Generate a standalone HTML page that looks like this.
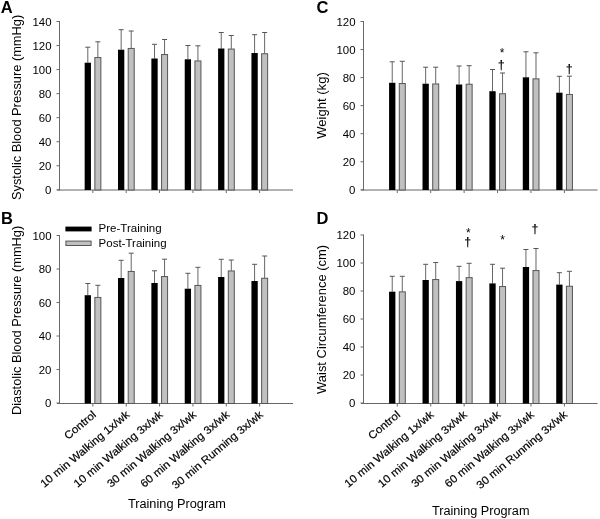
<!DOCTYPE html>
<html><head><meta charset="utf-8"><style>
html,body{margin:0;padding:0;background:#fff;}
svg{display:block;font-family:"Liberation Sans", Arial, sans-serif;}
</style></head><body>
<svg width="600" height="519" viewBox="0 0 600 519">
<rect width="600" height="519" fill="#fff"/>
<line x1="59.5" y1="21.0" x2="59.5" y2="190.5" stroke="#6a6a6a" stroke-width="1"/>
<line x1="57.0" y1="190" x2="293" y2="190" stroke="#666" stroke-width="1"/>
<line x1="56.5" y1="189.8" x2="59.5" y2="189.8" stroke="#6a6a6a" stroke-width="1"/>
<text x="51.5" y="194.1" font-size="11" text-anchor="end" textLength="6.36" lengthAdjust="spacingAndGlyphs" fill="#000">0</text>
<line x1="56.5" y1="165.76" x2="59.5" y2="165.76" stroke="#6a6a6a" stroke-width="1"/>
<text x="51.5" y="170.06" font-size="11" text-anchor="end" textLength="12.72" lengthAdjust="spacingAndGlyphs" fill="#000">20</text>
<line x1="56.5" y1="141.71" x2="59.5" y2="141.71" stroke="#6a6a6a" stroke-width="1"/>
<text x="51.5" y="146.01" font-size="11" text-anchor="end" textLength="12.72" lengthAdjust="spacingAndGlyphs" fill="#000">40</text>
<line x1="56.5" y1="117.67" x2="59.5" y2="117.67" stroke="#6a6a6a" stroke-width="1"/>
<text x="51.5" y="121.97" font-size="11" text-anchor="end" textLength="12.72" lengthAdjust="spacingAndGlyphs" fill="#000">60</text>
<line x1="56.5" y1="93.63" x2="59.5" y2="93.63" stroke="#6a6a6a" stroke-width="1"/>
<text x="51.5" y="97.93" font-size="11" text-anchor="end" textLength="12.72" lengthAdjust="spacingAndGlyphs" fill="#000">80</text>
<line x1="56.5" y1="69.59" x2="59.5" y2="69.59" stroke="#6a6a6a" stroke-width="1"/>
<text x="51.5" y="73.89" font-size="11" text-anchor="end" textLength="19.09" lengthAdjust="spacingAndGlyphs" fill="#000">100</text>
<line x1="56.5" y1="45.54" x2="59.5" y2="45.54" stroke="#6a6a6a" stroke-width="1"/>
<text x="51.5" y="49.84" font-size="11" text-anchor="end" textLength="19.09" lengthAdjust="spacingAndGlyphs" fill="#000">120</text>
<line x1="56.5" y1="21.5" x2="59.5" y2="21.5" stroke="#6a6a6a" stroke-width="1"/>
<text x="51.5" y="25.8" font-size="11" text-anchor="end" textLength="19.09" lengthAdjust="spacingAndGlyphs" fill="#000">140</text>
<line x1="92.86" y1="190" x2="92.86" y2="193" stroke="#6a6a6a" stroke-width="1"/>
<line x1="87.81" y1="47.2" x2="87.81" y2="62.7" stroke="#666" stroke-width="1"/>
<line x1="85.31" y1="47.2" x2="90.31" y2="47.2" stroke="#555" stroke-width="1"/>
<rect x="84.66" y="62.70" width="6.30" height="127.30" fill="#000"/>
<line x1="97.86" y1="41.8" x2="97.86" y2="57.3" stroke="#666" stroke-width="1"/>
<line x1="95.36" y1="41.8" x2="100.36" y2="41.8" stroke="#555" stroke-width="1"/>
<rect x="94.86" y="57.55" width="6.00" height="132.45" fill="#c0c0c0" stroke="#555" stroke-width="1"/>
<line x1="126.21" y1="190" x2="126.21" y2="193" stroke="#6a6a6a" stroke-width="1"/>
<line x1="121.16" y1="29.7" x2="121.16" y2="49.7" stroke="#666" stroke-width="1"/>
<line x1="118.66" y1="29.7" x2="123.66" y2="29.7" stroke="#555" stroke-width="1"/>
<rect x="118.01" y="49.70" width="6.30" height="140.30" fill="#000"/>
<line x1="131.21" y1="31.0" x2="131.21" y2="48.2" stroke="#666" stroke-width="1"/>
<line x1="128.71" y1="31.0" x2="133.71" y2="31.0" stroke="#555" stroke-width="1"/>
<rect x="128.21" y="48.45" width="6.00" height="141.55" fill="#c0c0c0" stroke="#555" stroke-width="1"/>
<line x1="159.57" y1="190" x2="159.57" y2="193" stroke="#6a6a6a" stroke-width="1"/>
<line x1="154.52" y1="44.3" x2="154.52" y2="58.5" stroke="#666" stroke-width="1"/>
<line x1="152.02" y1="44.3" x2="157.02" y2="44.3" stroke="#555" stroke-width="1"/>
<rect x="151.37" y="58.50" width="6.30" height="131.50" fill="#000"/>
<line x1="164.57" y1="39.5" x2="164.57" y2="54.3" stroke="#666" stroke-width="1"/>
<line x1="162.07" y1="39.5" x2="167.07" y2="39.5" stroke="#555" stroke-width="1"/>
<rect x="161.57" y="54.55" width="6.00" height="135.45" fill="#c0c0c0" stroke="#555" stroke-width="1"/>
<line x1="192.93" y1="190" x2="192.93" y2="193" stroke="#6a6a6a" stroke-width="1"/>
<line x1="187.88" y1="45.5" x2="187.88" y2="59.3" stroke="#666" stroke-width="1"/>
<line x1="185.38" y1="45.5" x2="190.38" y2="45.5" stroke="#555" stroke-width="1"/>
<rect x="184.73" y="59.30" width="6.30" height="130.70" fill="#000"/>
<line x1="197.93" y1="45.8" x2="197.93" y2="60.7" stroke="#666" stroke-width="1"/>
<line x1="195.43" y1="45.8" x2="200.43" y2="45.8" stroke="#555" stroke-width="1"/>
<rect x="194.93" y="60.95" width="6.00" height="129.05" fill="#c0c0c0" stroke="#555" stroke-width="1"/>
<line x1="226.29" y1="190" x2="226.29" y2="193" stroke="#6a6a6a" stroke-width="1"/>
<line x1="221.24" y1="32.5" x2="221.24" y2="48.5" stroke="#666" stroke-width="1"/>
<line x1="218.74" y1="32.5" x2="223.74" y2="32.5" stroke="#555" stroke-width="1"/>
<rect x="218.09" y="48.50" width="6.30" height="141.50" fill="#000"/>
<line x1="231.29" y1="35.5" x2="231.29" y2="48.8" stroke="#666" stroke-width="1"/>
<line x1="228.79" y1="35.5" x2="233.79" y2="35.5" stroke="#555" stroke-width="1"/>
<rect x="228.29" y="49.05" width="6.00" height="140.95" fill="#c0c0c0" stroke="#555" stroke-width="1"/>
<line x1="259.64" y1="190" x2="259.64" y2="193" stroke="#6a6a6a" stroke-width="1"/>
<line x1="254.59" y1="34.7" x2="254.59" y2="53.0" stroke="#666" stroke-width="1"/>
<line x1="252.09" y1="34.7" x2="257.09" y2="34.7" stroke="#555" stroke-width="1"/>
<rect x="251.44" y="53.00" width="6.30" height="137.00" fill="#000"/>
<line x1="264.64" y1="32.5" x2="264.64" y2="53.5" stroke="#666" stroke-width="1"/>
<line x1="262.14" y1="32.5" x2="267.14" y2="32.5" stroke="#555" stroke-width="1"/>
<rect x="261.64" y="53.75" width="6.00" height="136.25" fill="#c0c0c0" stroke="#555" stroke-width="1"/>
<line x1="59.5" y1="235.0" x2="59.5" y2="404.0" stroke="#6a6a6a" stroke-width="1"/>
<line x1="57.0" y1="403.5" x2="293" y2="403.5" stroke="#666" stroke-width="1"/>
<line x1="56.5" y1="403.0" x2="59.5" y2="403.0" stroke="#6a6a6a" stroke-width="1"/>
<text x="51.5" y="407.3" font-size="11" text-anchor="end" textLength="6.36" lengthAdjust="spacingAndGlyphs" fill="#000">0</text>
<line x1="56.5" y1="369.5" x2="59.5" y2="369.5" stroke="#6a6a6a" stroke-width="1"/>
<text x="51.5" y="373.8" font-size="11" text-anchor="end" textLength="12.72" lengthAdjust="spacingAndGlyphs" fill="#000">20</text>
<line x1="56.5" y1="336.0" x2="59.5" y2="336.0" stroke="#6a6a6a" stroke-width="1"/>
<text x="51.5" y="340.3" font-size="11" text-anchor="end" textLength="12.72" lengthAdjust="spacingAndGlyphs" fill="#000">40</text>
<line x1="56.5" y1="302.5" x2="59.5" y2="302.5" stroke="#6a6a6a" stroke-width="1"/>
<text x="51.5" y="306.8" font-size="11" text-anchor="end" textLength="12.72" lengthAdjust="spacingAndGlyphs" fill="#000">60</text>
<line x1="56.5" y1="269.0" x2="59.5" y2="269.0" stroke="#6a6a6a" stroke-width="1"/>
<text x="51.5" y="273.3" font-size="11" text-anchor="end" textLength="12.72" lengthAdjust="spacingAndGlyphs" fill="#000">80</text>
<line x1="56.5" y1="235.5" x2="59.5" y2="235.5" stroke="#6a6a6a" stroke-width="1"/>
<text x="51.5" y="239.8" font-size="11" text-anchor="end" textLength="19.09" lengthAdjust="spacingAndGlyphs" fill="#000">100</text>
<line x1="92.86" y1="403.5" x2="92.86" y2="406.5" stroke="#6a6a6a" stroke-width="1"/>
<line x1="87.81" y1="283.5" x2="87.81" y2="295.2" stroke="#666" stroke-width="1"/>
<line x1="85.31" y1="283.5" x2="90.31" y2="283.5" stroke="#555" stroke-width="1"/>
<rect x="84.66" y="295.20" width="6.30" height="108.30" fill="#000"/>
<line x1="97.86" y1="285.3" x2="97.86" y2="297.2" stroke="#666" stroke-width="1"/>
<line x1="95.36" y1="285.3" x2="100.36" y2="285.3" stroke="#555" stroke-width="1"/>
<rect x="94.86" y="297.45" width="6.00" height="106.05" fill="#c0c0c0" stroke="#555" stroke-width="1"/>
<line x1="126.21" y1="403.5" x2="126.21" y2="406.5" stroke="#6a6a6a" stroke-width="1"/>
<line x1="121.16" y1="260.3" x2="121.16" y2="278.0" stroke="#666" stroke-width="1"/>
<line x1="118.66" y1="260.3" x2="123.66" y2="260.3" stroke="#555" stroke-width="1"/>
<rect x="118.01" y="278.00" width="6.30" height="125.50" fill="#000"/>
<line x1="131.21" y1="253.2" x2="131.21" y2="271.2" stroke="#666" stroke-width="1"/>
<line x1="128.71" y1="253.2" x2="133.71" y2="253.2" stroke="#555" stroke-width="1"/>
<rect x="128.21" y="271.45" width="6.00" height="132.05" fill="#c0c0c0" stroke="#555" stroke-width="1"/>
<line x1="159.57" y1="403.5" x2="159.57" y2="406.5" stroke="#6a6a6a" stroke-width="1"/>
<line x1="154.52" y1="270.8" x2="154.52" y2="283.0" stroke="#666" stroke-width="1"/>
<line x1="152.02" y1="270.8" x2="157.02" y2="270.8" stroke="#555" stroke-width="1"/>
<rect x="151.37" y="283.00" width="6.30" height="120.50" fill="#000"/>
<line x1="164.57" y1="259.2" x2="164.57" y2="276.3" stroke="#666" stroke-width="1"/>
<line x1="162.07" y1="259.2" x2="167.07" y2="259.2" stroke="#555" stroke-width="1"/>
<rect x="161.57" y="276.55" width="6.00" height="126.95" fill="#c0c0c0" stroke="#555" stroke-width="1"/>
<line x1="192.93" y1="403.5" x2="192.93" y2="406.5" stroke="#6a6a6a" stroke-width="1"/>
<line x1="187.88" y1="273.3" x2="187.88" y2="288.7" stroke="#666" stroke-width="1"/>
<line x1="185.38" y1="273.3" x2="190.38" y2="273.3" stroke="#555" stroke-width="1"/>
<rect x="184.73" y="288.70" width="6.30" height="114.80" fill="#000"/>
<line x1="197.93" y1="267.3" x2="197.93" y2="285.2" stroke="#666" stroke-width="1"/>
<line x1="195.43" y1="267.3" x2="200.43" y2="267.3" stroke="#555" stroke-width="1"/>
<rect x="194.93" y="285.45" width="6.00" height="118.05" fill="#c0c0c0" stroke="#555" stroke-width="1"/>
<line x1="226.29" y1="403.5" x2="226.29" y2="406.5" stroke="#6a6a6a" stroke-width="1"/>
<line x1="221.24" y1="259.3" x2="221.24" y2="277.0" stroke="#666" stroke-width="1"/>
<line x1="218.74" y1="259.3" x2="223.74" y2="259.3" stroke="#555" stroke-width="1"/>
<rect x="218.09" y="277.00" width="6.30" height="126.50" fill="#000"/>
<line x1="231.29" y1="260.0" x2="231.29" y2="270.7" stroke="#666" stroke-width="1"/>
<line x1="228.79" y1="260.0" x2="233.79" y2="260.0" stroke="#555" stroke-width="1"/>
<rect x="228.29" y="270.95" width="6.00" height="132.55" fill="#c0c0c0" stroke="#555" stroke-width="1"/>
<line x1="259.64" y1="403.5" x2="259.64" y2="406.5" stroke="#6a6a6a" stroke-width="1"/>
<line x1="254.59" y1="264.3" x2="254.59" y2="281.0" stroke="#666" stroke-width="1"/>
<line x1="252.09" y1="264.3" x2="257.09" y2="264.3" stroke="#555" stroke-width="1"/>
<rect x="251.44" y="281.00" width="6.30" height="122.50" fill="#000"/>
<line x1="264.64" y1="256.0" x2="264.64" y2="278.0" stroke="#666" stroke-width="1"/>
<line x1="262.14" y1="256.0" x2="267.14" y2="256.0" stroke="#555" stroke-width="1"/>
<rect x="261.64" y="278.25" width="6.00" height="125.25" fill="#c0c0c0" stroke="#555" stroke-width="1"/>
<line x1="363.5" y1="21.0" x2="363.5" y2="190.5" stroke="#6a6a6a" stroke-width="1"/>
<line x1="361.0" y1="190" x2="597.5" y2="190" stroke="#666" stroke-width="1"/>
<line x1="360.5" y1="189.8" x2="363.5" y2="189.8" stroke="#6a6a6a" stroke-width="1"/>
<text x="355.5" y="194.1" font-size="11" text-anchor="end" textLength="6.36" lengthAdjust="spacingAndGlyphs" fill="#000">0</text>
<line x1="360.5" y1="161.75" x2="363.5" y2="161.75" stroke="#6a6a6a" stroke-width="1"/>
<text x="355.5" y="166.05" font-size="11" text-anchor="end" textLength="12.72" lengthAdjust="spacingAndGlyphs" fill="#000">20</text>
<line x1="360.5" y1="133.7" x2="363.5" y2="133.7" stroke="#6a6a6a" stroke-width="1"/>
<text x="355.5" y="138.0" font-size="11" text-anchor="end" textLength="12.72" lengthAdjust="spacingAndGlyphs" fill="#000">40</text>
<line x1="360.5" y1="105.65" x2="363.5" y2="105.65" stroke="#6a6a6a" stroke-width="1"/>
<text x="355.5" y="109.95" font-size="11" text-anchor="end" textLength="12.72" lengthAdjust="spacingAndGlyphs" fill="#000">60</text>
<line x1="360.5" y1="77.6" x2="363.5" y2="77.6" stroke="#6a6a6a" stroke-width="1"/>
<text x="355.5" y="81.9" font-size="11" text-anchor="end" textLength="12.72" lengthAdjust="spacingAndGlyphs" fill="#000">80</text>
<line x1="360.5" y1="49.55" x2="363.5" y2="49.55" stroke="#6a6a6a" stroke-width="1"/>
<text x="355.5" y="53.85" font-size="11" text-anchor="end" textLength="19.09" lengthAdjust="spacingAndGlyphs" fill="#000">100</text>
<line x1="360.5" y1="21.5" x2="363.5" y2="21.5" stroke="#6a6a6a" stroke-width="1"/>
<text x="355.5" y="25.8" font-size="11" text-anchor="end" textLength="19.09" lengthAdjust="spacingAndGlyphs" fill="#000">120</text>
<line x1="397.28" y1="190" x2="397.28" y2="193" stroke="#6a6a6a" stroke-width="1"/>
<line x1="392.23" y1="61.8" x2="392.23" y2="82.8" stroke="#666" stroke-width="1"/>
<line x1="389.73" y1="61.8" x2="394.73" y2="61.8" stroke="#555" stroke-width="1"/>
<rect x="389.08" y="82.80" width="6.30" height="107.20" fill="#000"/>
<line x1="402.28" y1="61.3" x2="402.28" y2="83.3" stroke="#666" stroke-width="1"/>
<line x1="399.78" y1="61.3" x2="404.78" y2="61.3" stroke="#555" stroke-width="1"/>
<rect x="399.28" y="83.55" width="6.00" height="106.45" fill="#c0c0c0" stroke="#555" stroke-width="1"/>
<line x1="430.71" y1="190" x2="430.71" y2="193" stroke="#6a6a6a" stroke-width="1"/>
<line x1="425.66" y1="67.2" x2="425.66" y2="83.7" stroke="#666" stroke-width="1"/>
<line x1="423.16" y1="67.2" x2="428.16" y2="67.2" stroke="#555" stroke-width="1"/>
<rect x="422.51" y="83.70" width="6.30" height="106.30" fill="#000"/>
<line x1="435.71" y1="67.2" x2="435.71" y2="83.7" stroke="#666" stroke-width="1"/>
<line x1="433.21" y1="67.2" x2="438.21" y2="67.2" stroke="#555" stroke-width="1"/>
<rect x="432.71" y="83.95" width="6.00" height="106.05" fill="#c0c0c0" stroke="#555" stroke-width="1"/>
<line x1="464.14" y1="190" x2="464.14" y2="193" stroke="#6a6a6a" stroke-width="1"/>
<line x1="459.09" y1="66.0" x2="459.09" y2="84.5" stroke="#666" stroke-width="1"/>
<line x1="456.59" y1="66.0" x2="461.59" y2="66.0" stroke="#555" stroke-width="1"/>
<rect x="455.94" y="84.50" width="6.30" height="105.50" fill="#000"/>
<line x1="469.14" y1="65.7" x2="469.14" y2="84.0" stroke="#666" stroke-width="1"/>
<line x1="466.64" y1="65.7" x2="471.64" y2="65.7" stroke="#555" stroke-width="1"/>
<rect x="466.14" y="84.25" width="6.00" height="105.75" fill="#c0c0c0" stroke="#555" stroke-width="1"/>
<line x1="497.56" y1="190" x2="497.56" y2="193" stroke="#6a6a6a" stroke-width="1"/>
<line x1="492.51" y1="69.5" x2="492.51" y2="91.2" stroke="#666" stroke-width="1"/>
<line x1="490.01" y1="69.5" x2="495.01" y2="69.5" stroke="#555" stroke-width="1"/>
<rect x="489.36" y="91.20" width="6.30" height="98.80" fill="#000"/>
<line x1="502.56" y1="73.0" x2="502.56" y2="93.5" stroke="#666" stroke-width="1"/>
<line x1="500.06" y1="73.0" x2="505.06" y2="73.0" stroke="#555" stroke-width="1"/>
<rect x="499.56" y="93.75" width="6.00" height="96.25" fill="#c0c0c0" stroke="#555" stroke-width="1"/>
<line x1="530.99" y1="190" x2="530.99" y2="193" stroke="#6a6a6a" stroke-width="1"/>
<line x1="525.94" y1="51.8" x2="525.94" y2="77.3" stroke="#666" stroke-width="1"/>
<line x1="523.44" y1="51.8" x2="528.44" y2="51.8" stroke="#555" stroke-width="1"/>
<rect x="522.79" y="77.30" width="6.30" height="112.70" fill="#000"/>
<line x1="535.99" y1="52.8" x2="535.99" y2="78.6" stroke="#666" stroke-width="1"/>
<line x1="533.49" y1="52.8" x2="538.49" y2="52.8" stroke="#555" stroke-width="1"/>
<rect x="532.99" y="78.85" width="6.00" height="111.15" fill="#c0c0c0" stroke="#555" stroke-width="1"/>
<line x1="564.42" y1="190" x2="564.42" y2="193" stroke="#6a6a6a" stroke-width="1"/>
<line x1="559.37" y1="76.3" x2="559.37" y2="92.7" stroke="#666" stroke-width="1"/>
<line x1="556.87" y1="76.3" x2="561.87" y2="76.3" stroke="#555" stroke-width="1"/>
<rect x="556.22" y="92.70" width="6.30" height="97.30" fill="#000"/>
<line x1="569.42" y1="76.2" x2="569.42" y2="94.2" stroke="#666" stroke-width="1"/>
<line x1="566.92" y1="76.2" x2="571.92" y2="76.2" stroke="#555" stroke-width="1"/>
<rect x="566.42" y="94.45" width="6.00" height="95.55" fill="#c0c0c0" stroke="#555" stroke-width="1"/>
<line x1="363.5" y1="234.5" x2="363.5" y2="404.0" stroke="#6a6a6a" stroke-width="1"/>
<line x1="361.0" y1="403.5" x2="597.5" y2="403.5" stroke="#666" stroke-width="1"/>
<line x1="360.5" y1="403.0" x2="363.5" y2="403.0" stroke="#6a6a6a" stroke-width="1"/>
<text x="355.5" y="407.3" font-size="11" text-anchor="end" textLength="6.36" lengthAdjust="spacingAndGlyphs" fill="#000">0</text>
<line x1="360.5" y1="375.0" x2="363.5" y2="375.0" stroke="#6a6a6a" stroke-width="1"/>
<text x="355.5" y="379.3" font-size="11" text-anchor="end" textLength="12.72" lengthAdjust="spacingAndGlyphs" fill="#000">20</text>
<line x1="360.5" y1="347.0" x2="363.5" y2="347.0" stroke="#6a6a6a" stroke-width="1"/>
<text x="355.5" y="351.3" font-size="11" text-anchor="end" textLength="12.72" lengthAdjust="spacingAndGlyphs" fill="#000">40</text>
<line x1="360.5" y1="319.0" x2="363.5" y2="319.0" stroke="#6a6a6a" stroke-width="1"/>
<text x="355.5" y="323.3" font-size="11" text-anchor="end" textLength="12.72" lengthAdjust="spacingAndGlyphs" fill="#000">60</text>
<line x1="360.5" y1="291.0" x2="363.5" y2="291.0" stroke="#6a6a6a" stroke-width="1"/>
<text x="355.5" y="295.3" font-size="11" text-anchor="end" textLength="12.72" lengthAdjust="spacingAndGlyphs" fill="#000">80</text>
<line x1="360.5" y1="263.0" x2="363.5" y2="263.0" stroke="#6a6a6a" stroke-width="1"/>
<text x="355.5" y="267.3" font-size="11" text-anchor="end" textLength="19.09" lengthAdjust="spacingAndGlyphs" fill="#000">100</text>
<line x1="360.5" y1="235.0" x2="363.5" y2="235.0" stroke="#6a6a6a" stroke-width="1"/>
<text x="355.5" y="239.3" font-size="11" text-anchor="end" textLength="19.09" lengthAdjust="spacingAndGlyphs" fill="#000">120</text>
<line x1="397.28" y1="403.5" x2="397.28" y2="406.5" stroke="#6a6a6a" stroke-width="1"/>
<line x1="392.23" y1="276.3" x2="392.23" y2="291.7" stroke="#666" stroke-width="1"/>
<line x1="389.73" y1="276.3" x2="394.73" y2="276.3" stroke="#555" stroke-width="1"/>
<rect x="389.08" y="291.70" width="6.30" height="111.80" fill="#000"/>
<line x1="402.28" y1="276.3" x2="402.28" y2="291.6" stroke="#666" stroke-width="1"/>
<line x1="399.78" y1="276.3" x2="404.78" y2="276.3" stroke="#555" stroke-width="1"/>
<rect x="399.28" y="291.85" width="6.00" height="111.65" fill="#c0c0c0" stroke="#555" stroke-width="1"/>
<line x1="430.71" y1="403.5" x2="430.71" y2="406.5" stroke="#6a6a6a" stroke-width="1"/>
<line x1="425.66" y1="264.3" x2="425.66" y2="280.0" stroke="#666" stroke-width="1"/>
<line x1="423.16" y1="264.3" x2="428.16" y2="264.3" stroke="#555" stroke-width="1"/>
<rect x="422.51" y="280.00" width="6.30" height="123.50" fill="#000"/>
<line x1="435.71" y1="262.5" x2="435.71" y2="279.3" stroke="#666" stroke-width="1"/>
<line x1="433.21" y1="262.5" x2="438.21" y2="262.5" stroke="#555" stroke-width="1"/>
<rect x="432.71" y="279.55" width="6.00" height="123.95" fill="#c0c0c0" stroke="#555" stroke-width="1"/>
<line x1="464.14" y1="403.5" x2="464.14" y2="406.5" stroke="#6a6a6a" stroke-width="1"/>
<line x1="459.09" y1="266.3" x2="459.09" y2="281.1" stroke="#666" stroke-width="1"/>
<line x1="456.59" y1="266.3" x2="461.59" y2="266.3" stroke="#555" stroke-width="1"/>
<rect x="455.94" y="281.10" width="6.30" height="122.40" fill="#000"/>
<line x1="469.14" y1="263.3" x2="469.14" y2="277.4" stroke="#666" stroke-width="1"/>
<line x1="466.64" y1="263.3" x2="471.64" y2="263.3" stroke="#555" stroke-width="1"/>
<rect x="466.14" y="277.65" width="6.00" height="125.85" fill="#c0c0c0" stroke="#555" stroke-width="1"/>
<line x1="497.56" y1="403.5" x2="497.56" y2="406.5" stroke="#6a6a6a" stroke-width="1"/>
<line x1="492.51" y1="264.3" x2="492.51" y2="283.4" stroke="#666" stroke-width="1"/>
<line x1="490.01" y1="264.3" x2="495.01" y2="264.3" stroke="#555" stroke-width="1"/>
<rect x="489.36" y="283.40" width="6.30" height="120.10" fill="#000"/>
<line x1="502.56" y1="268.2" x2="502.56" y2="286.3" stroke="#666" stroke-width="1"/>
<line x1="500.06" y1="268.2" x2="505.06" y2="268.2" stroke="#555" stroke-width="1"/>
<rect x="499.56" y="286.55" width="6.00" height="116.95" fill="#c0c0c0" stroke="#555" stroke-width="1"/>
<line x1="530.99" y1="403.5" x2="530.99" y2="406.5" stroke="#6a6a6a" stroke-width="1"/>
<line x1="525.94" y1="249.5" x2="525.94" y2="267.0" stroke="#666" stroke-width="1"/>
<line x1="523.44" y1="249.5" x2="528.44" y2="249.5" stroke="#555" stroke-width="1"/>
<rect x="522.79" y="267.00" width="6.30" height="136.50" fill="#000"/>
<line x1="535.99" y1="248.5" x2="535.99" y2="270.3" stroke="#666" stroke-width="1"/>
<line x1="533.49" y1="248.5" x2="538.49" y2="248.5" stroke="#555" stroke-width="1"/>
<rect x="532.99" y="270.55" width="6.00" height="132.95" fill="#c0c0c0" stroke="#555" stroke-width="1"/>
<line x1="564.42" y1="403.5" x2="564.42" y2="406.5" stroke="#6a6a6a" stroke-width="1"/>
<line x1="559.37" y1="272.7" x2="559.37" y2="284.6" stroke="#666" stroke-width="1"/>
<line x1="556.87" y1="272.7" x2="561.87" y2="272.7" stroke="#555" stroke-width="1"/>
<rect x="556.22" y="284.60" width="6.30" height="118.90" fill="#000"/>
<line x1="569.42" y1="271.3" x2="569.42" y2="286.0" stroke="#666" stroke-width="1"/>
<line x1="566.92" y1="271.3" x2="571.92" y2="271.3" stroke="#555" stroke-width="1"/>
<rect x="566.42" y="286.25" width="6.00" height="117.25" fill="#c0c0c0" stroke="#555" stroke-width="1"/>
<text x="0.8" y="12.8" font-size="16.5" text-anchor="start" font-weight="bold" fill="#000">A</text>
<text x="1.0" y="223.6" font-size="16.5" text-anchor="start" font-weight="bold" fill="#000">B</text>
<text x="316.6" y="12.9" font-size="16.5" text-anchor="start" font-weight="bold" fill="#000">C</text>
<text x="316.4" y="224.0" font-size="16.5" text-anchor="start" font-weight="bold" fill="#000">D</text>
<text x="21.0" y="107.4" font-size="12" text-anchor="middle" transform="rotate(-90 21.0 107.4)" textLength="185.2" lengthAdjust="spacingAndGlyphs" fill="#000">Systolic Blood Pressure (mmHg)</text>
<text x="21.0" y="320.4" font-size="12" text-anchor="middle" transform="rotate(-90 21.0 320.4)" textLength="189.2" lengthAdjust="spacingAndGlyphs" fill="#000">Diastolic Blood Pressure (mmHg)</text>
<text x="326.3" y="105.5" font-size="12" text-anchor="middle" transform="rotate(-90 326.3 105.5)" textLength="66.5" lengthAdjust="spacingAndGlyphs" fill="#000">Weight (kg)</text>
<text x="326.3" y="319.4" font-size="12" text-anchor="middle" transform="rotate(-90 326.3 319.4)" textLength="149" lengthAdjust="spacingAndGlyphs" fill="#000">Waist Circumference (cm)</text>
<rect x="65.40" y="226.60" width="26.20" height="4.80" fill="#000"/>
<rect x="65.90" y="241.10" width="25.20" height="4.40" fill="#c0c0c0" stroke="#555" stroke-width="1"/>
<text x="98.6" y="232.0" font-size="11" text-anchor="start" textLength="63" lengthAdjust="spacingAndGlyphs" fill="#000">Pre-Training</text>
<text x="98.6" y="246.5" font-size="11" text-anchor="start" textLength="68" lengthAdjust="spacingAndGlyphs" fill="#000">Post-Training</text>
<text x="96.86" y="415.8" font-size="11" text-anchor="end" transform="rotate(-40 96.86 415.8)" textLength="37.59" lengthAdjust="spacingAndGlyphs" fill="#000" stroke="#000" stroke-width="0.2">Control</text>
<text x="130.21" y="415.8" font-size="11" text-anchor="end" transform="rotate(-40 130.21 415.8)" textLength="112.32" lengthAdjust="spacingAndGlyphs" fill="#000" stroke="#000" stroke-width="0.2">10 min Walking 1x/wk</text>
<text x="163.57" y="415.8" font-size="11" text-anchor="end" transform="rotate(-40 163.57 415.8)" textLength="112.32" lengthAdjust="spacingAndGlyphs" fill="#000" stroke="#000" stroke-width="0.2">10 min Walking 3x/wk</text>
<text x="196.93" y="415.8" font-size="11" text-anchor="end" transform="rotate(-40 196.93 415.8)" textLength="112.32" lengthAdjust="spacingAndGlyphs" fill="#000" stroke="#000" stroke-width="0.2">30 min Walking 3x/wk</text>
<text x="230.29" y="415.8" font-size="11" text-anchor="end" transform="rotate(-40 230.29 415.8)" textLength="112.32" lengthAdjust="spacingAndGlyphs" fill="#000" stroke="#000" stroke-width="0.2">60 min Walking 3x/wk</text>
<text x="263.64" y="415.8" font-size="11" text-anchor="end" transform="rotate(-40 263.64 415.8)" textLength="114.72" lengthAdjust="spacingAndGlyphs" fill="#000" stroke="#000" stroke-width="0.2">30 min Running 3x/wk</text>
<text x="400.93" y="415.8" font-size="11" text-anchor="end" transform="rotate(-40 400.93 415.8)" textLength="37.59" lengthAdjust="spacingAndGlyphs" fill="#000" stroke="#000" stroke-width="0.2">Control</text>
<text x="434.36" y="415.8" font-size="11" text-anchor="end" transform="rotate(-40 434.36 415.8)" textLength="112.32" lengthAdjust="spacingAndGlyphs" fill="#000" stroke="#000" stroke-width="0.2">10 min Walking 1x/wk</text>
<text x="467.79" y="415.8" font-size="11" text-anchor="end" transform="rotate(-40 467.79 415.8)" textLength="112.32" lengthAdjust="spacingAndGlyphs" fill="#000" stroke="#000" stroke-width="0.2">10 min Walking 3x/wk</text>
<text x="501.21" y="415.8" font-size="11" text-anchor="end" transform="rotate(-40 501.21 415.8)" textLength="112.32" lengthAdjust="spacingAndGlyphs" fill="#000" stroke="#000" stroke-width="0.2">30 min Walking 3x/wk</text>
<text x="534.64" y="415.8" font-size="11" text-anchor="end" transform="rotate(-40 534.64 415.8)" textLength="112.32" lengthAdjust="spacingAndGlyphs" fill="#000" stroke="#000" stroke-width="0.2">60 min Walking 3x/wk</text>
<text x="568.07" y="415.8" font-size="11" text-anchor="end" transform="rotate(-40 568.07 415.8)" textLength="114.72" lengthAdjust="spacingAndGlyphs" fill="#000" stroke="#000" stroke-width="0.2">30 min Running 3x/wk</text>
<text x="176.9" y="507.6" font-size="12" text-anchor="middle" textLength="98" lengthAdjust="spacingAndGlyphs" fill="#000">Training Program</text>
<text x="480.7" y="515.0" font-size="12" text-anchor="middle" textLength="97.6" lengthAdjust="spacingAndGlyphs" fill="#000">Training Program</text>
<text x="502.2" y="56.7" font-size="12" text-anchor="middle" fill="#000">*</text>
<text x="468.3" y="237.0" font-size="12" text-anchor="middle" fill="#000">*</text>
<text x="502.7" y="243.6" font-size="12" text-anchor="middle" fill="#000">*</text>
<text x="501.3" y="69.3" font-size="12.5" text-anchor="middle" font-weight="bold" fill="#000">†</text>
<text x="569.2" y="73.1" font-size="12.5" text-anchor="middle" font-weight="bold" fill="#000">†</text>
<text x="467.8" y="246.1" font-size="12.5" text-anchor="middle" font-weight="bold" fill="#000">†</text>
<text x="535.0" y="232.9" font-size="12.5" text-anchor="middle" font-weight="bold" fill="#000">†</text>
</svg>
</body></html>
